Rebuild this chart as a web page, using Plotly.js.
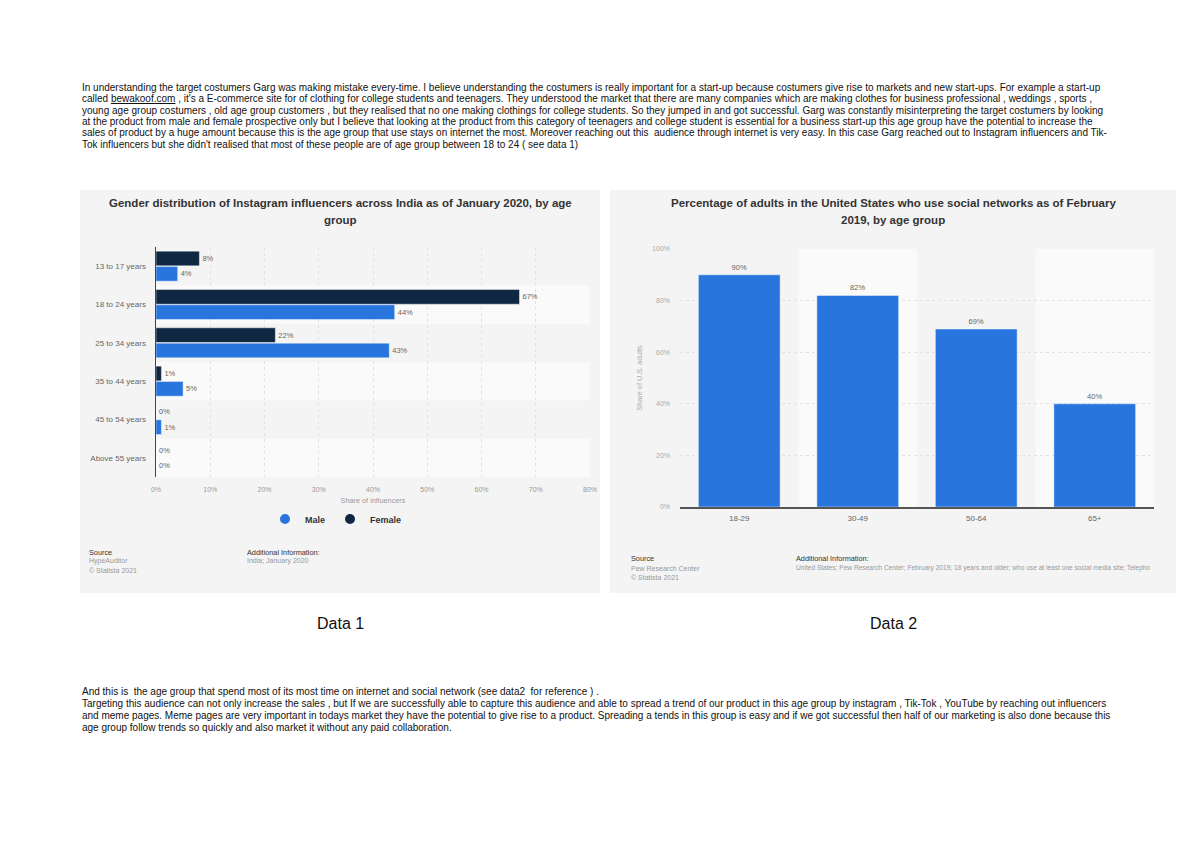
<!DOCTYPE html>
<html>
<head>
<meta charset="utf-8">
<script src="https://cdn.plot.ly/plotly-3.0.1.min.js"></script>
<style>
html,body{margin:0;padding:0;background:#fff;}
#chart{width:1200px;height:848px;}
</style>
</head>
<body>
<div id="chart"></div>
<script>
// ---- Data: chart 1 (India Instagram influencers) ----
var ageGroups1 = ["13 to 17 years", "18 to 24 years", "25 to 34 years", "35 to 44 years", "45 to 54 years", "Above 55 years"];
var femaleShare = [8, 67, 22, 1, 0, 0];
var maleShare = [4, 44, 43, 5, 1, 0];
var xTicks1 = [0, 10, 20, 30, 40, 50, 60, 70, 80];

// ---- Data: chart 2 (US adults social networks) ----
var ageGroups2 = ["18-29", "30-49", "50-64", "65+"];
var usShare = [90, 82, 69, 40];
var yTicks2 = [0, 20, 40, 60, 80, 100];

// ---- Text ----
var topText = [
  "In understanding the target costumers Garg was making mistake every-time. I believe understanding the costumers is really important for a start-up because costumers give rise to markets and new start-ups. For example a start-up",
  "called <span style=\"text-decoration:underline\">bewakoof.com</span> , it's a E-commerce site for of clothing for college students and teenagers. They understood the market that there are many companies which are making clothes for business professional , weddings , sports ,",
  "young age group costumers , old age group customers , but they realised that no one making clothings for college students. So they jumped in and got successful. Garg was constantly misinterpreting the target costumers by looking",
  "at the product from male and female prospective only but I believe that looking at the product from this category of teenagers and college student is essential for a business start-up this age group have the potential to increase the",
  "sales of product by a huge amount because this is the age group that use stays on internet the most. Moreover reaching out this  audience through internet is very easy. In this case Garg reached out to Instagram influencers and Tik-",
  "Tok influencers but she didn't realised that most of these people are of age group between 18 to 24 ( see data 1)"
];
var bottomText = [
  "And this is  the age group that spend most of its most time on internet and social network (see data2  for reference ) .",
  "Targeting this audience can not only increase the sales , but If we are successfully able to capture this audience and able to spread a trend of our product in this age group by instagram , Tik-Tok , YouTube by reaching out influencers",
  "and meme pages. Meme pages are very important in todays market they have the potential to give rise to a product. Spreading a tends in this group is easy and if we got successful then half of our marketing is also done because this",
  "age group follow trends so quickly and also market it without any paid collaboration."
];

var W = 1200, H = 848;
function px(x){ return x / W; }
function py(y){ return 1 - y / H; }
function pct(v){ return v + "%"; }

var FONT = "Liberation Sans, Arial, Helvetica, sans-serif";
var BLUE = "#2876dd";
var NAVY = "#0f2740";
var PANEL = "#f4f4f4";
var BAND = "#fafafa";

var traces = [
  {
    type: "bar", orientation: "h", name: "Female",
    y: ageGroups1, x: femaleShare, xaxis: "x", yaxis: "y",
    marker: {color: NAVY, line: {color: "rgba(255,255,255,0.55)", width: 0.8}},
    text: femaleShare.map(pct), textinfo: "text", textposition: "outside", cliponaxis: false,
    textfont: {family: FONT, size: 7.5, color: "#666"},
    showlegend: false, hoverinfo: "skip"
  },
  {
    type: "bar", orientation: "h", name: "Male",
    y: ageGroups1, x: maleShare, xaxis: "x", yaxis: "y",
    marker: {color: BLUE, line: {color: "rgba(255,255,255,0.55)", width: 0.8}},
    text: maleShare.map(pct), textinfo: "text", textposition: "outside", cliponaxis: false,
    textfont: {family: FONT, size: 7.5, color: "#666"},
    showlegend: false, hoverinfo: "skip"
  },
  {
    type: "scatter", mode: "markers", name: "Male", x: [null], y: [null], xaxis: "x", yaxis: "y",
    marker: {color: BLUE, size: 10, symbol: "circle"}, showlegend: true, legendrank: 1
  },
  {
    type: "scatter", mode: "markers", name: "Female", x: [null], y: [null], xaxis: "x", yaxis: "y",
    marker: {color: NAVY, size: 10, symbol: "circle"}, showlegend: true, legendrank: 2
  },
  {
    type: "bar", name: "Share of U.S. adults",
    x: ageGroups2, y: usShare, xaxis: "x2", yaxis: "y2", width: 0.69,
    marker: {color: BLUE, line: {color: "rgba(255,255,255,0.55)", width: 0.8}},
    text: usShare.map(pct), textinfo: "text", textposition: "outside", cliponaxis: false,
    textfont: {family: FONT, size: 7.5, color: "#666"},
    showlegend: false, hoverinfo: "skip"
  }
];

var shapes = [
  {type: "rect", xref: "paper", yref: "paper", x0: px(80), x1: px(600), y0: py(593), y1: py(190), fillcolor: PANEL, line: {width: 0}, layer: "below"},
  {type: "rect", xref: "paper", yref: "paper", x0: px(610), x1: px(1176), y0: py(593), y1: py(190), fillcolor: PANEL, line: {width: 0}, layer: "below"}
];
ageGroups1.forEach(function(c, i){
  if (i % 2 === 1) {
    shapes.push({type: "rect", xref: "x domain", yref: "y", x0: 0, x1: 1, y0: i - 0.5, y1: i + 0.5, fillcolor: BAND, line: {width: 0}, layer: "below"});
  }
});
ageGroups2.forEach(function(c, i){
  if (i % 2 === 1) {
    shapes.push({type: "rect", xref: "x2", yref: "y2", x0: i - 0.5, x1: i + 0.5, y0: 0, y1: 100, fillcolor: BAND, line: {width: 0}, layer: "below"});
  }
});

var annotations = [];
function addText(text, x, y, opts){
  opts = opts || {};
  annotations.push({
    xref: "paper", yref: "paper", x: px(x), y: py(y),
    xanchor: opts.xanchor || "left", yanchor: "middle",
    text: text, showarrow: false, align: opts.align || "left",
    font: {family: FONT, size: opts.size || 9, color: opts.color || "#000", weight: opts.weight || "normal"}
  });
}
var topY = [87, 98.5, 110, 121.5, 133, 144.5];
topText.forEach(function(t, i){ addText(t, 80, topY[i], {size: 10, color: "#111"}); });
var botY = [691, 703, 715, 727];
bottomText.forEach(function(t, i){ addText(t, 80, botY[i], {size: 10, color: "#111"}); });

// chart titles
addText("Gender distribution of Instagram influencers across India as of January 2020, by age", 340, 203, {xanchor: "center", size: 11.5, color: "#333", weight: "bold"});
addText("group", 340, 220, {xanchor: "center", size: 11.5, color: "#333", weight: "bold"});
addText("Percentage of adults in the United States who use social networks as of February", 893, 203, {xanchor: "center", size: 11.5, color: "#333", weight: "bold"});
addText("2019, by age group", 893, 220, {xanchor: "center", size: 11.5, color: "#333", weight: "bold"});

// sources
addText("Source", 87, 552, {size: 7.3, color: "#333"});
addText("HypeAuditor", 87, 561, {size: 7, color: "#999"});
addText("© Statista 2021", 87, 570, {size: 7, color: "#999"});
addText("Additional Information:", 245, 552, {size: 7.3, color: "#333"});
addText("India; January 2020", 245, 561, {size: 7, color: "#999"});

addText("Source", 629, 558, {size: 7.3, color: "#333"});
addText("Pew Research Center", 629, 568, {size: 7, color: "#999"});
addText("© Statista 2021", 629, 577, {size: 7, color: "#999"});
addText("Additional Information:", 794, 558, {size: 7.3, color: "#333"});
addText("United States; Pew Research Center; February 2019; 18 years and older; who use at least one social media site; Telepho", 794, 567.5, {size: 6.6, color: "#999"});

addText("Data 1", 340, 623, {xanchor: "center", size: 16, color: "#111"});
addText("Data 2", 893, 623, {xanchor: "center", size: 16, color: "#111"});

var layout = {
  width: W, height: H,
  margin: {l: 0, r: 0, t: 0, b: 0, pad: 0},
  paper_bgcolor: "#ffffff",
  plot_bgcolor: "rgba(0,0,0,0)",
  font: {family: FONT},
  barmode: "group", bargap: 0.2, bargroupgap: 0.04,
  xaxis: {
    domain: [px(156), px(590)], anchor: "y", range: [0, 80],
    tickvals: xTicks1, ticktext: xTicks1.map(pct),
    tickfont: {family: FONT, size: 7, color: "#999"},
    showgrid: true, gridcolor: "#e2e2e2", griddash: "dot", gridwidth: 1,
    zeroline: false, showline: false, ticks: "", ticklabelstandoff: 7,
    title: {text: "Share of influencers", font: {family: FONT, size: 7.3, color: "#999"}, standoff: 5},
    fixedrange: true
  },
  yaxis: {
    domain: [py(477), py(247)], anchor: "x", type: "category",
    categoryarray: ageGroups1, categoryorder: "array", range: [5.5, -0.5],
    tickfont: {family: FONT, size: 8, color: "#666"},
    showgrid: false, zeroline: false, showline: true, linecolor: "#444", linewidth: 1.5,
    ticks: "", ticklabelstandoff: 7, fixedrange: true
  },
  xaxis2: {
    domain: [px(680), px(1154)], anchor: "y2", type: "category",
    categoryarray: ageGroups2, categoryorder: "array", range: [-0.5, 3.5],
    tickfont: {family: FONT, size: 8, color: "#666"},
    showgrid: false, zeroline: false, showline: true, linecolor: "#555", linewidth: 1.5,
    ticks: "", ticklabelstandoff: 3, fixedrange: true
  },
  yaxis2: {
    domain: [py(507), py(249)], anchor: "x2", range: [0, 100],
    tickvals: yTicks2, ticktext: yTicks2.map(pct),
    tickfont: {family: FONT, size: 7, color: "#aaa"},
    showgrid: true, gridcolor: "#e2e2e2", griddash: "dot", gridwidth: 1,
    zeroline: false, showline: false, ticks: "", ticklabelstandoff: 9,
    title: {text: "Share of U.S. adults", font: {family: FONT, size: 7.3, color: "#aaa"}, standoff: 8},
    fixedrange: true
  },
  legend: {
    orientation: "h", x: px(336), xanchor: "center", y: py(519), yanchor: "middle",
    font: {family: FONT, size: 9, color: "#333", weight: "bold"},
    bgcolor: "rgba(0,0,0,0)", itemwidth: 30, traceorder: "normal"
  },
  shapes: shapes,
  annotations: annotations
};

Plotly.newPlot("chart", traces, layout, {staticPlot: true, displayModeBar: false});
</script>
</body>
</html>
